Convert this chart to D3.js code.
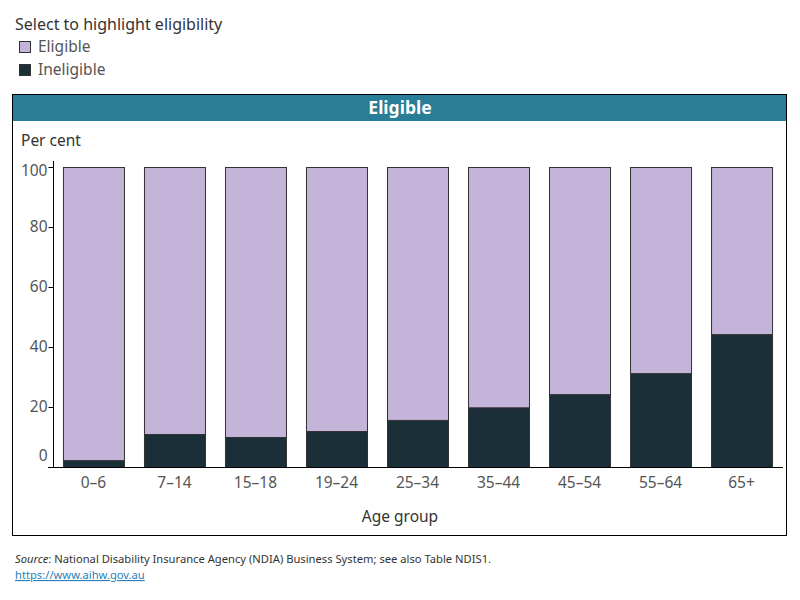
<!DOCTYPE html>
<html>
<head>
<meta charset="utf-8">
<script src="https://cdn.jsdelivr.net/npm/d3@7"></script>
<style>
  body { margin: 0; background: #fff; }
  svg text { font-family: "Noto Sans", "Open Sans", sans-serif; }
</style>
</head>
<body>
<div class="content"></div>
<script>
(function (window) {
    'use strict';
    var ageGroups = ["0–6", "7–14", "15–18", "19–24", "25–34", "35–44", "45–54", "55–64", "65+"],
        ineligible = [2.3, 11, 10, 12, 15.7, 19.9, 24.3, 31.3, 44.3],
        eligible = ineligible.map(function (v) { return 100 - v; }),
        yTicks = [0, 20, 40, 60, 80, 100],
        legendItems = ["Eligible", "Ineligible"],
        colors = {Eligible: "#c5b4da", Ineligible: "#1b2f38"},
        width = 800, height = 600,
        svg, x, y, rows, stack, g;

    svg = d3.select(".content").append("svg")
        .attr("width", width)
        .attr("height", height);

    // legend
    svg.append("text")
        .attr("x", 15).attr("y", 30)
        .attr("font-size", 16).attr("fill", "#333")
        .text("Select to highlight eligibility");
    legendItems.forEach(function (name, i) {
        svg.append("rect")
            .attr("x", 19.5).attr("y", 41.5 + i * 23)
            .attr("width", 11).attr("height", 11)
            .attr("fill", colors[name])
            .attr("stroke", "#333");
        svg.append("text")
            .attr("x", 38).attr("y", 52 + i * 23)
            .attr("font-size", 15.5).attr("fill", "#555")
            .text(name);
    });

    // frame + header
    svg.append("rect")
        .attr("x", 12.5).attr("y", 94.5)
        .attr("width", 774).attr("height", 441)
        .attr("fill", "none").attr("stroke", "#000");
    svg.append("rect")
        .attr("x", 13).attr("y", 95)
        .attr("width", 773).attr("height", 26)
        .attr("fill", "#2a7d96");
    svg.append("text")
        .attr("x", 400).attr("y", 114)
        .attr("text-anchor", "middle")
        .attr("font-size", 17.5).attr("font-weight", "bold")
        .attr("fill", "#fff")
        .text("Eligible");

    svg.append("text")
        .attr("x", 21).attr("y", 146)
        .attr("font-size", 15.5).attr("fill", "#333")
        .text("Per cent");

    x = d3.scaleBand().domain(ageGroups).range([53, 782])
        .paddingInner(0.247).paddingOuter(0.123);
    y = d3.scaleLinear().domain([0, 100]).range([467, 167]);

    rows = ageGroups.map(function (a, i) {
        return {age: a, Ineligible: ineligible[i], Eligible: eligible[i]};
    });
    stack = d3.stack().keys(["Ineligible", "Eligible"])(rows);

    g = svg.append("g");
    stack.forEach(function (layer) {
        g.selectAll("rect." + layer.key)
            .data(layer)
            .enter().append("rect")
            .attr("class", layer.key)
            .attr("x", function (d) { return x(d.data.age) + 0.5; })
            .attr("y", function (d) { return y(d[1]) + 0.5; })
            .attr("width", x.bandwidth())
            .attr("height", function (d) { return y(d[0]) - y(d[1]); })
            .attr("fill", colors[layer.key])
            .attr("stroke", "#333")
            .attr("stroke-width", 1);
    });

    // y axis
    var yAxis = svg.append("g")
        .attr("transform", "translate(53.5,0)")
        .call(d3.axisLeft(y).tickValues(yTicks).tickSize(5).tickSizeOuter(0));
    yAxis.select(".domain").attr("stroke", "#000").attr("d", "M0,161V467");
    yAxis.selectAll(".tick line").attr("stroke", "#000");
    yAxis.selectAll("text")
        .attr("font-size", 15.5).attr("fill", "#555")
        .attr("x", -6)
        .attr("dy", function (d) { return d === 0 ? "-0.4em" : (d === 100 ? "0.55em" : "0.32em"); });

    // x axis
    var xAxis = svg.append("g")
        .attr("transform", "translate(0,467.5)")
        .call(d3.axisBottom(x).tickSize(0).tickPadding(9));
    xAxis.select(".domain").attr("stroke", "#000").attr("d", "M48,0H783");
    xAxis.selectAll("text").attr("font-size", 15.5).attr("fill", "#555");

    svg.append("text")
        .attr("x", 400).attr("y", 522)
        .attr("text-anchor", "middle")
        .attr("font-size", 15.5).attr("fill", "#333")
        .text("Age group");

    // footnote
    var src = svg.append("text")
        .attr("x", 15).attr("y", 563)
        .attr("font-size", 11.2).attr("fill", "#333");
    src.append("tspan").attr("font-style", "italic").text("Source");
    src.append("tspan").text(": National Disability Insurance Agency (NDIA) Business System; see also Table NDIS1.");
    svg.append("text")
        .attr("x", 15).attr("y", 579)
        .attr("font-size", 11.2).attr("fill", "#2a7fb8")
        .attr("text-decoration", "underline")
        .text("https://www.aihw.gov.au");
}(window));
</script>
</body>
</html>
